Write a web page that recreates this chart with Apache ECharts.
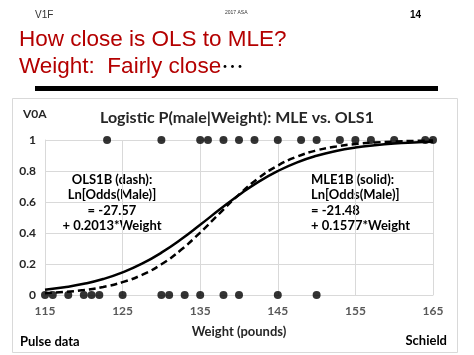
<!DOCTYPE html>
<html><head><meta charset="utf-8">
<script src="https://cdn.jsdelivr.net/npm/echarts@6/dist/echarts.min.js"></script>
<style>html,body{margin:0;padding:0;background:#fff}#c{width:474px;height:355px}</style>
</head><body><div id="c"></div>
<script>
const xTicks = [115, 125, 135, 145, 155, 165];
const yTicks = [0, 0.2, 0.4, 0.6, 0.8, 1];
const femaleWeights = [115, 116, 118, 120, 121, 122, 125, 130, 131, 133, 135, 138, 140, 145, 150];
const maleWeights = [123, 130, 135, 136, 138, 140, 142, 145, 148, 150, 153, 155, 157, 160, 164, 165];
const curveWeights = [115, 117.5, 120, 122.5, 125, 127.5, 130, 132.5, 135, 137.5, 140, 142.5, 145, 147.5, 150, 152.5, 155, 157.5, 160, 162.5, 165];
const mleProb = [0.034, 0.050, 0.072, 0.103, 0.146, 0.202, 0.273, 0.358, 0.453, 0.551, 0.645, 0.730, 0.800, 0.856, 0.898, 0.929, 0.951, 0.966, 0.977, 0.984, 0.989];
const olsProb = [0.012, 0.020, 0.032, 0.052, 0.083, 0.130, 0.198, 0.290, 0.403, 0.527, 0.648, 0.753, 0.835, 0.893, 0.933, 0.958, 0.974, 0.984, 0.990, 0.994, 0.997];

const chart = echarts.init(document.getElementById('c'));
const F = 'Lato, "Open Sans", sans-serif';
const pair = (xs, ys) => xs.map((x, i) => [x, ys[i]]);
chart.setOption({
  animation: false,
  backgroundColor: '#ffffff',
  grid: {left: 45, right: 41, top: 140, bottom: 60},
  xAxis: {
    type: 'value', min: xTicks[0], max: xTicks[xTicks.length - 1], interval: 10,
    axisLine: {show: true, lineStyle: {color: '#d9d9d9'}}, axisTick: {show: false},
    splitLine: {show: true, lineStyle: {color: '#d9d9d9', width: 1}},
    axisLabel: {color: '#595959', fontFamily: F, fontWeight: 'bold', fontSize: 12, margin: 10},
    name: 'Weight (pounds)', nameLocation: 'middle', nameGap: 30,
    nameTextStyle: {color: '#262626', fontFamily: F, fontWeight: 'bold', fontSize: 13}
  },
  yAxis: {
    type: 'value', min: yTicks[0], max: yTicks[yTicks.length - 1], interval: 0.2,
    axisLine: {show: true, lineStyle: {color: '#d9d9d9'}}, axisTick: {show: false},
    splitLine: {show: true, lineStyle: {color: '#d9d9d9', width: 1}},
    axisLabel: {color: '#262626', fontFamily: F, fontWeight: 'bold', fontSize: 12, margin: 9}
  },
  title: {
    text: 'Logistic P(male|Weight): MLE vs. OLS1', left: 232, top: 105, textAlign: 'center',
    textStyle: {color: '#262626', fontFamily: F, fontWeight: 'bold', fontSize: 16}
  },
  graphic: [
    {type: 'rect', left: 10, top: 96, shape: {width: 445, height: 254}, style: {fill: 'none', stroke: '#d9d9d9', lineWidth: 1}, silent: true, z: -1},
    {type: 'rect', left: 35, top: 86, shape: {width: 403, height: 5}, style: {fill: '#000'}},
    {type: 'text', left: 35, top: 10, style: {text: 'V1F', font: '10px "Liberation Sans", Arial, sans-serif', fill: '#333'}},
    {type: 'text', left: 225, top: 10, style: {text: '2017 ASA', font: '5px "Liberation Sans", Arial, sans-serif', fill: '#333'}},
    {type: 'text', left: 410, top: 10, style: {text: '14', font: 'bold 10px "Liberation Sans", Arial, sans-serif', fill: '#000'}},
    {type: 'text', left: 19, top: 28, style: {text: 'How close is OLS to MLE?', font: '22.5px "Liberation Sans", Arial, sans-serif', fill: '#b40000'}},
    {type: 'text', left: 19, top: 55, style: {
      text: '{a|Weight:  Fairly close}{b|\u2026}',
      rich: {
        a: {fontFamily: '"Liberation Sans", Arial, sans-serif', fontSize: 22.5, fill: '#b40000', color: '#b40000'},
        b: {fontFamily: '"Noto Sans CJK JP", "Liberation Sans", sans-serif', fontSize: 22.5, color: '#b40000'}
      }
    }},
    {type: 'text', left: 23, top: 108, style: {text: 'V0A', font: 'bold 12px Lato, sans-serif', fill: '#262626'}},
    {type: 'text', x: 112, y: 172, style: {text: 'OLS1B (dash):\nLn[Odds(Male)]\n= -27.57\n+ 0.2013*Weight', font: 'bold 13px Lato, sans-serif', fill: '#000', align: 'center', verticalAlign: 'top', lineHeight: 15.5}},
    {type: 'text', x: 311, y: 172, style: {text: 'MLE1B (solid):\nLn[Odds(Male)]\n= -21.48\n+ 0.1577*Weight', font: 'bold 13px Lato, sans-serif', fill: '#000', align: 'left', verticalAlign: 'top', lineHeight: 15.5}},
    {type: 'text', left: 20, top: 335, style: {text: 'Pulse data', font: 'bold 13px Lato, sans-serif', fill: '#000'}},
    {type: 'text', right: 27, top: 334, style: {text: 'Schield', font: 'bold 13px Lato, sans-serif', fill: '#000'}}
  ],
  series: [
    {type: 'line', data: pair(curveWeights, mleProb), smooth: true, showSymbol: false, lineStyle: {color: '#000', width: 2.5}, z: 3},
    {type: 'line', data: pair(curveWeights, olsProb), smooth: true, showSymbol: false, lineStyle: {color: '#000', width: 2.5, type: [7, 4]}, z: 3},
    {type: 'scatter', data: femaleWeights.map(w => [w, 0]), symbolSize: 8, itemStyle: {color: '#000'}, z: 4},
    {type: 'scatter', data: maleWeights.map(w => [w, 1]), symbolSize: 8, itemStyle: {color: '#000'}, z: 4}
  ]
});
</script></body></html>
